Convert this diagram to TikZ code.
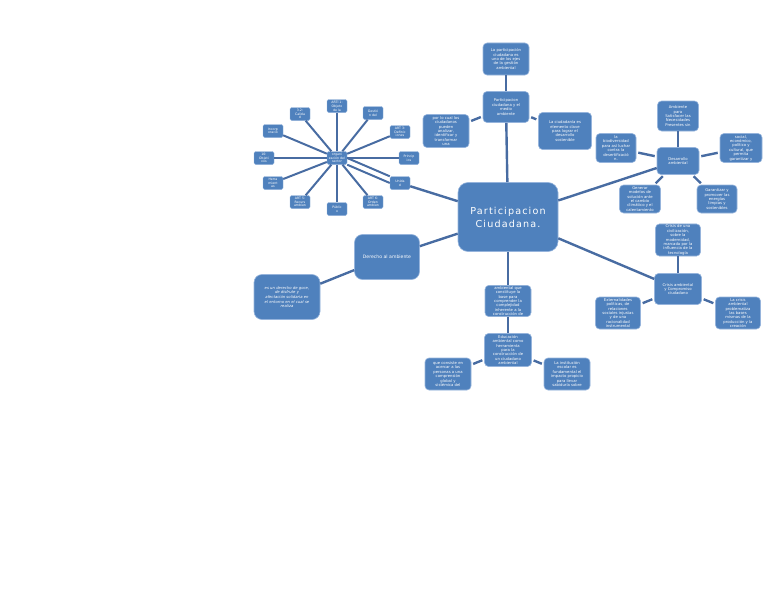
\documentclass[tikz,border=0pt]{standalone}
\usepackage{fontspec}
\setmainfont{DejaVu Sans}
\newfontfamily\ttlfont[LetterSpace=12]{DejaVu Sans}
\definecolor{boxblue}{RGB}{79,129,189}
\definecolor{edgeblue}{RGB}{150,180,220}
\definecolor{linkblue}{RGB}{72,108,162}
\begin{document}
\begin{tikzpicture}[x=1pt, y=-1pt,
  box/.style={rectangle, rounded corners=4pt, fill=boxblue, draw=edgeblue, line width=0.6pt, text=white, align=center, inner sep=1pt},
  leaf/.style 2 args={box, minimum width=#1pt, minimum height=#2pt, font=\fontsize{3.8}{4.4}\selectfont},
  spoke/.style={box, rounded corners=1.5pt, minimum width=20pt, minimum height=13pt, line width=0.4pt, font=\fontsize{3.2}{3.7}\selectfont},
  lnk/.style={draw=linkblue, line width=2.4pt},
  slnk/.style={draw=linkblue, line width=2pt}]
\useasboundingbox (0,0) rectangle (768,594);

\node[box, rounded corners=10pt, minimum width=100pt, minimum height=69pt, font=\ttlfont\fontsize{9.6}{13}\selectfont] (pid0) at (508,217) {Participacion\\Ciudadana.};

% participacion y medio ambiente
\node[leaf={46}{31}] (pid1) at (506,107) {Participacion\\ciudadana y el\\medio\\ambiente};
\node[leaf={46}{32}] (pid2) at (506,59) {La participación\\ciudadana es\\uno de los ejes\\de la gestión\\ambiental};
\node[leaf={46}{33}] (pid3) at (446,131) {por lo cual los\\ciudadanos\\pueden\\analizar,\\identificar y\\transformar\\una};
\node[leaf={53}{37}] (pid4) at (565,131) {La ciudadanía es\\elemento clave\\para lograr el\\desarrollo\\sostenible};
\draw[lnk](pid0) -- (pid1);
\draw[lnk](pid1) -- (pid2);
\draw[lnk, shorten <=2pt, shorten >=2pt](pid1) -- (pid3);
\draw[lnk, shorten <=2pt, shorten >=2pt](pid1) -- (pid4);

% desarrollo ambiental
\node[leaf={42}{27}] (pid5) at (678,161) {Desarrollo\\ambiental};
\node[leaf={41}{30}] (pid6) at (678,116) {Ambiente\\para\\Satisfacer las\\Necesidades\\Presentes sin};
\node[leaf={42}{29}] (pid7) at (741,148) {social,\\económico,\\político y\\cultural, que\\permita\\garantizar y};
\node[leaf={40}{29}] (pid8) at (616,148) {la\\biodiversidad\\para así luchar\\contra la\\desertificació\\n.};
\node[leaf={41}{28}] (pid9) at (640,199) {Generar\\modelos de\\solución ante\\el cambio\\climático y el\\calentamiento};
\node[leaf={40}{28}] (pid10) at (717,199) {Garantizar y\\promover las\\energías\\limpias y\\sostenibles};
\draw[lnk](pid0) -- (pid5);
\draw[lnk](pid5) -- (pid6);
\draw[lnk, shorten <=2pt, shorten >=2pt](pid5) -- (pid7);
\draw[lnk, shorten <=2pt, shorten >=2pt](pid5) -- (pid8);
\draw[lnk, shorten <=2pt, shorten >=2pt](pid5) -- (pid9);
\draw[lnk, shorten <=2pt, shorten >=2pt](pid5) -- (pid10);

% crisis ambiental
\node[leaf={47}{31}] (pid11) at (678,289) {Crisis ambiental\\y Compromiso\\ciudadano};
\node[leaf={45}{31}] (pid12) at (678,240) {Crisis de una\\civilización,\\sobre la\\modernidad,\\marcada por la\\influencia de la\\tecnología};
\node[leaf={45}{32}] (pid13) at (618,313) {Externalidades\\políticas, de\\relaciones\\sociales injustas\\y de una\\racionalidad\\instrumental};
\node[leaf={45}{32}] (pid14) at (738,313) {La crisis\\ambiental\\problematiza\\las bases\\mismas de la\\producción y la\\creación};
\draw[lnk](pid0) -- (pid11);
\draw[lnk](pid11) -- (pid12);
\draw[lnk, shorten <=2pt, shorten >=2pt](pid11) -- (pid13);
\draw[lnk, shorten <=2pt, shorten >=2pt](pid11) -- (pid14);

% educacion ambiental
\node[leaf={47}{33}] (pid15) at (508,350) {Educación\\ambiental como\\herramienta\\para la\\construcción de\\un ciudadano\\ambiental};
\node[leaf={46}{31}] (pid16) at (508,301) {ambiental que\\constituye la\\base para\\comprender la\\complejidad\\inherente a la\\construcción de};
\node[leaf={46}{32}] (pid17) at (448,374) {que consiste en\\acercar a las\\personas a una\\comprensión\\global y\\sistémica del};
\node[leaf={46}{32}] (pid18) at (567,374) {La institución\\escolar es\\fundamental el\\impacto propicio\\para llevar\\sabiduría sobre};
\draw[lnk](pid0) -- (pid16);
\draw[lnk](pid16) -- (pid15);
\draw[lnk, shorten <=2pt, shorten >=2pt](pid15) -- (pid17);
\draw[lnk, shorten <=2pt, shorten >=2pt](pid15) -- (pid18);

% derecho al ambiente
\node[box, rounded corners=8pt, minimum width=65pt, minimum height=45pt, font=\fontsize{4.6}{5.5}\selectfont] (pid19) at (387,257) {Derecho al ambiente};
\node[box, rounded corners=8pt, minimum width=66pt, minimum height=45pt, font=\itshape\fontsize{3.8}{4.6}\selectfont] (pid20) at (287,297) {es un derecho de goce,\\de disfrute y\\afectación solidaria en\\el entorno en el cual se\\realiza};
\draw[lnk](pid0) -- (pid19);
\draw[lnk](pid19) -- (pid20);

% organizacion del sector
\node[spoke] (sid0) at (337,158) {organi\\zación del\\sector};
\node[spoke] (sid1) at (337,106) {ARTÍ 1:\\Objeto\\de la};
\node[spoke] (sid2) at (373,113) {Gestió\\n del};
\node[spoke] (sid3) at (400,132) {ART 3:\\Definic\\iones};
\node[spoke] (sid4) at (409,158) {Princip\\ios};
\node[spoke] (sid5) at (400,183) {Unida\\d};
\node[spoke] (sid6) at (373,202) {ART 6:\\Orden\\ambien};
\node[spoke] (sid7) at (337,209) {Públic\\o};
\node[spoke] (sid8) at (300,202) {ART 5:\\Recurs\\ambien};
\node[spoke] (sid9) at (273,183) {Herra\\mient\\as};
\node[spoke] (sid10) at (264,158) {10:\\Objeti\\vos};
\node[spoke] (sid11) at (273,131) {Incorp\\oració};
\node[spoke] (sid12) at (300,114) {3.2:\\Calida\\d};
\draw[slnk](sid0) -- (sid1);
\draw[slnk](sid0) -- (sid2);
\draw[slnk](sid0) -- (sid3);
\draw[slnk](sid0) -- (sid4);
\draw[slnk](sid0.east) -- (sid5.north west);
\draw[slnk](sid0.south east) -- (sid5.west);
\draw[slnk](sid0) -- (sid6);
\draw[slnk](sid0) -- (sid7);
\draw[slnk](sid0) -- (sid8);
\draw[slnk](sid0) -- (sid9);
\draw[slnk](sid0) -- (sid10);
\draw[slnk](sid0) -- (sid11);
\draw[slnk](sid0) -- (sid12);
\draw[lnk](sid5) -- (pid0);

\end{tikzpicture}
\end{document}
